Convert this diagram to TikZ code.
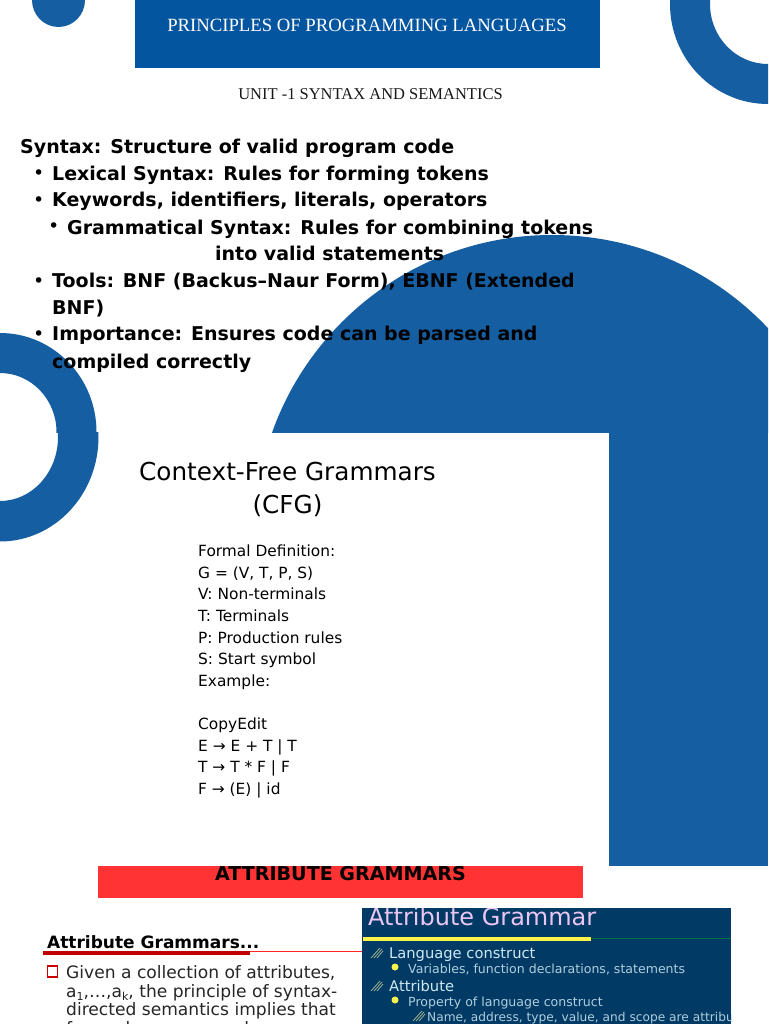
\documentclass[tikz,border=0pt]{standalone}
\usepackage{fontspec}
\setmainfont{DejaVu Sans}
\newfontfamily\serifface{Liberation Serif}
\definecolor{slideblue}{HTML}{155EA2}
\definecolor{bannerblue}{HTML}{0455A0}
\definecolor{bannerred}{HTML}{FF3333}
\definecolor{navy}{HTML}{023A66}
\definecolor{lilac}{HTML}{EBC6F2}
\definecolor{paleblue}{HTML}{CFE8F0}
\definecolor{dotyellow}{HTML}{FBF24A}
\definecolor{darkred}{HTML}{C00000}
\newcommand{\lowidx}[1]{\raisebox{-3pt}{\fontsize{11}{11}\selectfont #1}}
\tikzset{
  syntaxline/.style={anchor=base west,inner sep=0pt,font=\fontsize{19}{19}\selectfont\bfseries},
  dotline/.style={anchor=base west,inner sep=0pt,font=\fontsize{19}{19}\selectfont},
  cfgline/.style={anchor=base west,inner sep=0pt,font=\fontsize{15.4}{15.4}\selectfont},
  leftline/.style={anchor=base west,inner sep=0pt,text=black!85,font=\fontsize{17.1}{17.1}\selectfont},
  bigline/.style={anchor=base west,inner sep=0pt,text=paleblue,font=\fontsize{14.7}{14.7}\selectfont},
  smallline/.style={anchor=base west,inner sep=0pt,text=paleblue!85!navy,font=\fontsize{12.55}{12.55}\selectfont},
  hatchmark/.style={draw=paleblue!60!olive,line width=.7pt},
  yellowdot/.style={circle,fill=dotyellow,minimum size=7pt,inner sep=0pt}
}
\begin{document}
\begin{tikzpicture}[x=1pt,y=-1pt]
  \useasboundingbox (0,0) rectangle (768,1024);
  \fill[white] (0,0) rectangle (768,1024);

  \begin{scope}
    \clip (0,0) rectangle (768,432.5);
    \fill[slideblue] (58.5,0) ellipse [x radius=26.5,y radius=27];
    \fill[slideblue,even odd rule] (768,4) ellipse [x radius=98,y radius=100]
      (768,4) ellipse [x radius=58,y radius=60];
    \fill[slideblue] (552,532) circle [radius=297];
    \fill[slideblue,even odd rule] (0,432) ellipse [x radius=96.5,y radius=99]
      (0,432) ellipse [x radius=56.5,y radius=59];
  \end{scope}
  \begin{scope}
    \clip (0,432.5) rectangle (768,866);
    \fill[slideblue,even odd rule] (0,437) ellipse [x radius=98.5,y radius=104.5]
      (0,437) ellipse [x radius=58,y radius=64];
    \fill[slideblue] (609,432.5) rectangle (768,866);
  \end{scope}
  \fill[bannerblue] (135,0) rectangle (600,68.5);
  \node[text=white,inner sep=0pt,font=\serifface\fontsize{18.7}{18.7}\selectfont] (title) at (367,25) {PRINCIPLES OF PROGRAMMING LANGUAGES};
  \node[text=black!90,inner sep=0pt,font=\serifface\fontsize{16.5}{16.5}\selectfont] (unit) at (370.5,94) {UNIT -1 SYNTAX AND SEMANTICS};

  \begin{scope}[every node/.style={syntaxline}]
    \node (s1)  at (20,154)  {Syntax: Structure of valid program code};
    \node (s2)  at (52,181)  {Lexical Syntax: Rules for forming tokens};
    \node (s3)  at (52,207)  {Keywords, identifiers, literals, operators};
    \node (s4)  at (67,234)  {Grammatical Syntax: Rules for combining tokens};
    \node (s5)  at (215,260) {into valid statements};
    \node (s6)  at (52,287)  {Tools: BNF (Backus–Naur Form), EBNF (Extended};
    \node (s7)  at (52,314)  {BNF)};
    \node (s8)  at (52,340)  {Importance: Ensures code can be parsed and};
    \node (s9)  at (52,368)  {compiled correctly};
  \end{scope}
  \begin{scope}[every node/.style={dotline}]
    \node (b2)  at (33,180)  {•};
    \node (b3)  at (33,207)  {•};
    \node (b4)  at (48,233)  {•};
    \node (b6)  at (33,287)  {•};
    \node (b8)  at (33,340)  {•};
  \end{scope}

  \node[inner sep=0pt,font=\fontsize{24.7}{24.7}\selectfont] (cfg1) at (287.5,472) {Context-Free Grammars};
  \node[inner sep=0pt,font=\fontsize{24.7}{24.7}\selectfont] (cfg2) at (287.5,506) {(CFG)};
  \begin{scope}[every node/.style={cfgline}]
    \node (c1)  at (198,556)  {Formal Definition:};
    \node (c2)  at (198,578)  {G = (V, T, P, S)};
    \node (c3)  at (198,599)  {V: Non-terminals};
    \node (c4)  at (198,621)  {T: Terminals};
    \node (c5)  at (198,643)  {P: Production rules};
    \node (c6)  at (198,664)  {S: Start symbol};
    \node (c7)  at (198,686)  {Example:};
    \node (c8)  at (198,729)  {CopyEdit};
    \node (c9)  at (198,751)  {E → E + T | T};
    \node (c10) at (198,772)  {T → T * F | F};
    \node (c11) at (198,794)  {F → (E) | id};
  \end{scope}

  \fill[bannerred] (98,866) rectangle (583,898);
  \begin{scope}
    \clip (98,866) rectangle (583,898);
    \node[inner sep=0pt,font=\fontsize{19.1}{19.1}\selectfont\bfseries] (attr) at (340.5,873.5) {ATTRIBUTE GRAMMARS};
  \end{scope}

  \begin{scope}
    \clip (30,920) rectangle (362,1024);
    \draw[red!85!white,line width=.6pt] (250,951) -- (362,951);
    \fill[darkred] (43,950.5) rectangle (250,955);
    \node[anchor=base west,inner sep=0pt,font=\fontsize{17}{17}\selectfont\bfseries] (ag) at (47,948) {Attribute Grammars...};
    \draw[red!80!black,line width=1.2pt] (47.5,966) rectangle (57.5,977);
    \begin{scope}[every node/.style={leftline}]
      \node (l1) at (66,978)  {Given a collection of attributes,};
      \node (l2) at (66,997)  {a\lowidx{1},…,a\lowidx{k}, the principle of syntax-};
      \node (l3) at (66,1015) {directed semantics implies that};
      \node (l4) at (66,1034) {for each grammar rule,};
    \end{scope}
  \end{scope}

  \begin{scope}
    \clip (362,908) rectangle (731,1024);
    \fill[navy] (362,908) rectangle (731,1024);
    \draw[green!30!navy,line width=.8pt] (591,938.5) -- (731,938.5);
    \fill[dotyellow] (363,937) rectangle (591,940.5);
    \node[anchor=base west,inner sep=0pt,text=lilac,font=\fontsize{24}{24}\selectfont] (ttl) at (368,925) {Attribute Grammar};
    \node[yellowdot] (d1) at (395,967) {};
    \node[yellowdot] (d2) at (395,1000) {};
    \begin{scope}[every node/.style={bigline}]
      \node (r1) at (389,958) {Language construct};
      \node (r3) at (389,991) {Attribute};
    \end{scope}
    \begin{scope}[every node/.style={smallline}]
      \node (r2) at (408,973) {Variables, function declarations, statements};
      \node (r4) at (408,1006) {Property of language construct};
      \node[font=\fontsize{12.2}{12.2}\selectfont] (r5) at (427,1021) {Name, address, type, value, and scope are attributes};
    \end{scope}
    \foreach \xa/\ya in {371/958,371/991,413/1021} {
      \draw[hatchmark] (\xa,\ya) -- ++(9,-10);
      \draw[hatchmark] (\xa+3,\ya) -- ++(8,-9);
      \draw[hatchmark] (\xa+6,\ya) -- ++(6,-7);
    }
  \end{scope}
\end{tikzpicture}
\end{document}
